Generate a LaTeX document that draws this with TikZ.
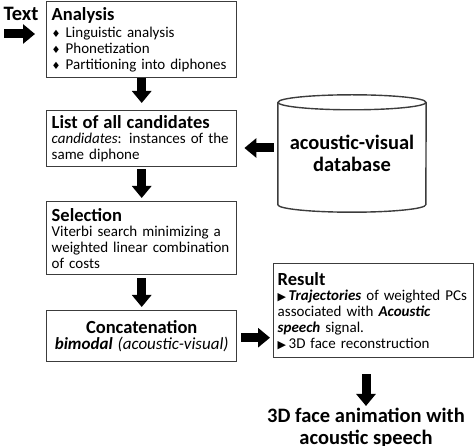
\documentclass[tikz,border=0pt]{standalone}
\usepackage{fontspec}
\setmainfont{Carlito}
\newfontfamily\symfont{DejaVu Sans}
\usetikzlibrary{positioning}
\usetikzlibrary{calc}
\usetikzlibrary{arrows.meta}

\newcommand{\boxhead}[1]{{\fontsize{18.5}{20}\selectfont\bfseries #1}}
\newcommand{\diabul}{{\symfont\fontsize{10}{10}\selectfont ♦}}
\newcommand{\tribul}{{\symfont\fontsize{11}{11}\selectfont ▶}}

\begin{document}
\begin{tikzpicture}[
        x=1pt, y=-1pt,
        box/.style={rectangle, draw=boxgray, line width=1.4pt, anchor=north west,
            inner xsep=5pt, inner ysep=1pt, align=left,
            font=\fontsize{15}{16}\selectfont},
        lbl/.style={font=\fontsize{20.5}{22}\selectfont\bfseries, align=center, inner sep=0pt},
        blk/.style={line width=9pt, -{Triangle[length=12pt,width=19pt]}},
        cyl/.style={draw=boxgray, line width=1.4pt},
    ]
        \definecolor{boxgray}{RGB}{60,60,60}
        \useasboundingbox (0,0) rectangle (474,446);

        % Pipeline boxes
        \node[box, text width=180pt, minimum height=76pt] (ana) at (46,1)
            {\boxhead{Analysis}\\[1pt]
             \diabul\ Linguistic analysis\\
             \diabul\ Phonetization\\
             \diabul\ Partitioning into diphones};
        \node[box, text width=180pt, minimum height=56pt] (list) at (46,110)
            {\boxhead{List of all candidates}\\[-1pt]
             \textit{candidates}: instances of the\\
             same diphone};
        \node[box, text width=180pt, minimum height=73pt] (sel) at (46,201)
            {\boxhead{Selection}\\[-1pt]
             Viterbi search minimizing a\\
             weighted linear combination\\
             of costs};
        \node[box, text width=180pt, minimum height=51pt, align=center] (conc) at (46,310)
            {\boxhead{Concatenation}\\
             {\fontsize{17}{18}\selectfont\textbf{\textit{bimodal}} \textit{(acoustic-visual)}}};
        \node[box, text width=192pt, inner xsep=4pt, minimum height=94pt] (res) at (273,263)
            {\boxhead{Result}\\[-1pt]
             \tribul\,\textbf{\textit{Trajectories}} of weighted PCs\\
             associated with \textbf{\textit{Acoustic}}\\
             \textbf{\textit{speech}} signal.\\
             \tribul\,3D face reconstruction};

        % Database
        \node[lbl, minimum width=148pt, minimum height=117pt] (db) at (352,153.5)
            {acoustic-visual\\database};
        \draw[cyl] ($(db.north west)+(0,7.5)$) -- ($(db.south west)+(0,-7.5)$)
            arc[start angle=180, end angle=360, x radius=74pt, y radius=7.5pt]
            -- ($(db.north east)+(0,7.5)$);
        \draw[cyl] ($(db.north)+(0,7.5)$) ellipse[x radius=74pt, y radius=7.5pt];

        % Labels
        \node[lbl] (txt) at (21,14) {Text};
        \node[lbl] (fin) at (366,428) {3D face animation with\\acoustic speech};

        % Arrows
        \coordinate (tin) at (4,34);
        \coordinate (tout) at (35,34);
        \coordinate (dbout) at ($(db.west)+(-4,-5.5)$);
        \draw[blk] (tin) -- (tout);
        \draw[blk, shorten >=7pt] (ana.south) -- (list.north);
        \draw[blk, shorten <=2pt, shorten >=3pt] (list.south) -- (sel.north);
        \draw[blk, shorten <=3pt, shorten >=3pt] (sel.south) -- (conc.north);
        \draw[blk] (dbout) -- ($(dbout -| list.east)+(7,0)$);
        \draw[blk, shorten <=4pt, shorten >=3pt] ($(conc.east)+(0,1.5)$) -- ($(conc.east -| res.west)+(0,1.5)$);
        \draw[blk, shorten <=16pt, shorten >=2pt] (res.south -| fin.north) -- (fin.north);

\end{tikzpicture}
\end{document}
